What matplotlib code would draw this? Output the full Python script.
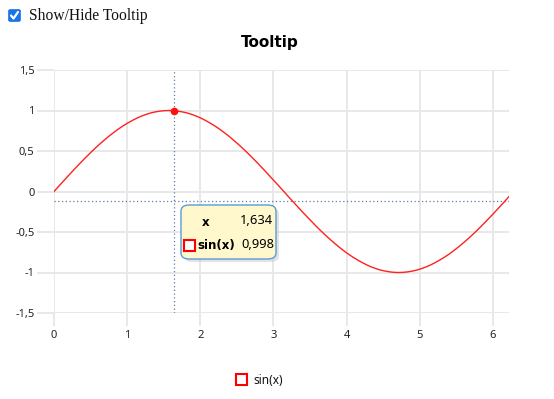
import matplotlib
matplotlib.use("Agg")
import matplotlib.pyplot as plt
from matplotlib.patches import FancyBboxPatch, Rectangle

x_values = [0.000,0.063,0.126,0.188,0.251,0.314,0.377,0.440,0.503,0.565,
            0.628,0.691,0.754,0.817,0.880,0.942,1.005,1.068,1.131,1.194,
            1.257,1.319,1.382,1.445,1.508,1.571,1.634,1.696,1.759,1.822,
            1.885,1.948,2.011,2.073,2.136,2.199,2.262,2.325,2.388,2.450,
            2.513,2.576,2.639,2.702,2.765,2.827,2.890,2.953,3.016,3.079,
            3.142,3.204,3.267,3.330,3.393,3.456,3.519,3.581,3.644,3.707,
            3.770,3.833,3.896,3.958,4.021,4.084,4.147,4.210,4.273,4.335,
            4.398,4.461,4.524,4.587,4.650,4.712,4.775,4.838,4.901,4.964,
            5.027,5.089,5.152,5.215,5.278,5.341,5.404,5.466,5.529,5.592,
            5.655,5.718,5.781,5.843,5.906,5.969,6.032,6.095,6.158,6.220]
sin_values = [0.000,0.063,0.125,0.187,0.249,0.309,0.368,0.426,0.482,0.536,
              0.588,0.637,0.685,0.729,0.771,0.809,0.844,0.876,0.905,0.930,
              0.951,0.969,0.982,0.992,0.998,1.000,0.998,0.992,0.982,0.969,
              0.951,0.930,0.905,0.876,0.844,0.809,0.771,0.729,0.685,0.637,
              0.588,0.536,0.482,0.426,0.368,0.309,0.249,0.187,0.125,0.063,
              0.000,-0.063,-0.125,-0.187,-0.249,-0.309,-0.368,-0.426,-0.482,-0.536,
              -0.588,-0.637,-0.685,-0.729,-0.771,-0.809,-0.844,-0.876,-0.905,-0.930,
              -0.951,-0.969,-0.982,-0.992,-0.998,-1.000,-0.998,-0.992,-0.982,-0.969,
              -0.951,-0.930,-0.905,-0.876,-0.844,-0.809,-0.771,-0.729,-0.685,-0.637,
              -0.588,-0.536,-0.482,-0.426,-0.368,-0.309,-0.249,-0.187,-0.125,-0.063]
x_ticks = [0, 1, 2, 3, 4, 5, 6]
y_ticks = [-1.5, -1, -0.5, 0, 0.5, 1, 1.5]
y_tick_labels = ["-1,5", "-1", "-0,5", "0", "0,5", "1", "1,5"]
hover_index = 26
cursor_y = -0.12
series_name = "sin(x)"
title = "Tooltip"

W, H = 554, 399
fig = plt.figure(figsize=(W / 100, H / 100), dpi=100)
fig.patch.set_facecolor("white")
UI = "Noto Sans"
BOLD = "DejaVu Sans"

def fx(px):
    return px / W

def fy(py):
    return 1 - py / H

ax = fig.add_axes([fx(54), fy(313), fx(509) - fx(54), fy(70) - fy(313)])
ax.set_xlim(0, 6.22)
ax.set_ylim(-1.5, 1.5)
for s in ax.spines.values():
    s.set_visible(False)
ax.set_xticks(x_ticks)
ax.set_xticklabels([str(t) for t in x_ticks])
ax.set_yticks(y_ticks)
ax.set_yticklabels(y_tick_labels)
grid_col = "#e8e8e8"
ax.grid(True, color=grid_col, linewidth=1.4)
ax.tick_params(axis="x", length=9, width=1.4, color=grid_col, pad=3,
               labelsize=8, labelcolor="#222222")
ax.tick_params(axis="y", length=12, width=1.4, color=grid_col, pad=2,
               labelsize=8, labelcolor="#222222")
for lab in ax.get_xticklabels() + ax.get_yticklabels():
    lab.set_family(UI)

ax.plot(x_values, sin_values, color="#ff2020", linewidth=1.0, zorder=3)

hx = x_values[hover_index]
hy = sin_values[hover_index]
cross_col = "#5f7f9f"
ax.axvline(hx, color=cross_col, linestyle=(0, (1, 2)), linewidth=0.9, zorder=2)
ax.axhline(cursor_y, color=cross_col, linestyle=(0, (1, 2)), linewidth=0.9, zorder=2)
ax.plot([hx], [hy], "o", color="#ff1010", markersize=4.5, zorder=4)

# title
fig.text(fx(270), fy(42), title, ha="center", va="center", fontsize=11,
         fontweight="bold", family=BOLD)

# checkbox
fig.patches.append(FancyBboxPatch((fx(8.5), fy(21.5)), fx(12), fy(9.5) - fy(21.5),
                                  boxstyle="round,pad=0,rounding_size=0.004",
                                  transform=fig.transFigure, facecolor="#1a73e8",
                                  edgecolor="#1a73e8", linewidth=0.5))
fig.lines.append(plt.Line2D([fx(11), fx(13.5), fx(18)], [fy(15.5), fy(18.5), fy(12)],
                            transform=fig.transFigure, color="white", linewidth=1.6,
                            solid_capstyle="round"))
fig.text(fx(29), fy(16), "Show/Hide Tooltip", ha="left", va="center", fontsize=11.2,
         family="Liberation Serif", color="#111111")

# tooltip
tx0, ty0, tx1, ty1 = 181, 205, 276, 259
shadow = FancyBboxPatch((fx(tx0 + 3), fy(ty1 + 3)), fx(tx1) - fx(tx0), fy(ty0) - fy(ty1),
                        boxstyle="round,pad=0,rounding_size=0.015",
                        transform=fig.transFigure, facecolor="#c8c8c8",
                        edgecolor="none", alpha=0.5, zorder=5)
fig.patches.append(shadow)
tip = FancyBboxPatch((fx(tx0), fy(ty1)), fx(tx1) - fx(tx0), fy(ty0) - fy(ty1),
                     boxstyle="round,pad=0,rounding_size=0.015",
                     transform=fig.transFigure, facecolor="#fff8cc",
                     edgecolor="#5b9bd5", linewidth=1.0, zorder=6)
fig.patches.append(tip)
fig.text(fx(202), fy(222), "x", ha="left", va="center", fontsize=8.5,
         fontweight="bold", family=BOLD, zorder=7)
fig.text(fx(273), fy(220), f"{hx:.3f}".replace(".", ","), ha="right", va="center",
         fontsize=9.3, family=UI, zorder=7)
fig.patches.append(Rectangle((fx(184), fy(251)), fx(11), fy(240) - fy(251),
                             transform=fig.transFigure, facecolor="white",
                             edgecolor="#ff0000", linewidth=1.5, zorder=7))
fig.text(fx(197), fy(245), series_name, ha="left", va="center", fontsize=8.5,
         fontweight="bold", family=BOLD, zorder=7)
fig.text(fx(274), fy(244), f"{hy:.3f}".replace(".", ","), ha="right", va="center",
         fontsize=9.3, family=UI, zorder=7)

# legend
fig.patches.append(Rectangle((fx(236), fy(385)), fx(11), fy(374) - fy(385),
                             transform=fig.transFigure, facecolor="white",
                             edgecolor="#ff0000", linewidth=1.5))
fig.text(fx(253), fy(380), series_name, ha="left", va="center", fontsize=8.5,
         family=UI, color="#111111")

fig.savefig("out.png", dpi=100)
